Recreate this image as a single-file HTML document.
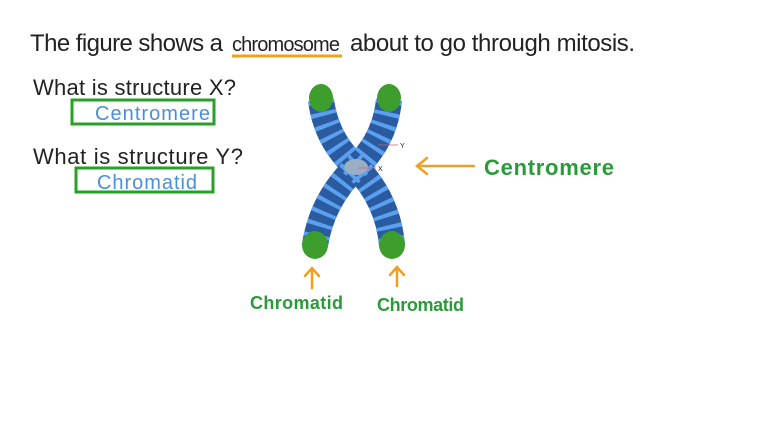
<!DOCTYPE html>
<html><head><style>
body{margin:0;width:760px;height:427px;background:#fff;overflow:hidden;font-family:"Liberation Sans",sans-serif}
</style></head><body>
<svg width="760" height="427" viewBox="0 0 760 427" xmlns="http://www.w3.org/2000/svg">
<g font-family="Liberation Sans, sans-serif">
<text y="51" font-size="24" fill="#222"><tspan x="30" textLength="193">The figure shows a</tspan><tspan x="232" font-size="20" textLength="108">chromosome</tspan><tspan x="350" textLength="285">about to go through mitosis.</tspan></text>
<line x1="232" y1="56" x2="342" y2="56" stroke="#f0a020" stroke-width="3"/>
<text x="33" y="95" font-size="22" fill="#222" textLength="203">What is structure X?</text>
<rect x="72" y="100" width="142" height="24" fill="none" stroke="#2aa02a" stroke-width="3"/>
<text x="95" y="120" font-size="20" fill="#4a90d9" textLength="115">Centromere</text>
<text x="33" y="164" font-size="22" fill="#222" textLength="210">What is structure Y?</text>
<rect x="76" y="168" width="137" height="24" fill="none" stroke="#2aa02a" stroke-width="3"/>
<text x="97" y="189" font-size="20" fill="#4a90d9" textLength="100">Chromatid</text>
</g>
<g fill="none">
<path d="M321 100 Q326 140 356 167 Q322 200 315 245" stroke="#2a5aa0" stroke-width="26"/>
<path d="M389 100 Q385 140 356 167 Q388 200 392 245" stroke="#2a5aa0" stroke-width="26"/>
<path d="M321 100 Q326 140 356 167 Q322 200 315 245" stroke="#5aa0ee" stroke-width="26" stroke-dasharray="4 8"/>
<path d="M389 100 Q385 140 356 167 Q388 200 392 245" stroke="#5aa0ee" stroke-width="26" stroke-dasharray="4 8"/>
</g>
<ellipse cx="321" cy="98" rx="12" ry="14" fill="#3d9e2e"/>
<ellipse cx="389" cy="98" rx="12" ry="14" fill="#3d9e2e"/>
<ellipse cx="315" cy="245" rx="13" ry="14" fill="#3d9e2e"/>
<ellipse cx="392" cy="245" rx="13" ry="14" fill="#3d9e2e"/>
<ellipse cx="356" cy="167" rx="12" ry="8" fill="#9aaec6"/>
<line x1="378" y1="145" x2="398" y2="145" stroke="#c66" stroke-width="0.8"/>
<text x="400" y="148" font-size="7" fill="#222">Y</text>
<line x1="358" y1="168" x2="376" y2="168" stroke="#c66" stroke-width="0.8"/>
<text x="378" y="171" font-size="7" fill="#222">X</text>
<g stroke="#f0a020" stroke-width="2.5" fill="none" stroke-linecap="round">
<path d="M417 166 H474 M427 158 L417 166 L427 174"/>
<path d="M312 288 V268 M305 276 L312 268 L319 276"/>
<path d="M397 286 V267 M390 275 L397 267 L404 275"/>
</g>
<g font-family="Liberation Sans, sans-serif" fill="#2a9a3a" font-weight="bold">
<text x="484" y="175" font-size="22" textLength="130">Centromere</text>
<text x="250" y="309" font-size="18" textLength="93">Chromatid</text>
<text x="377" y="311" font-size="18" textLength="87">Chromatid</text>
</g>
</svg>
</body></html>
